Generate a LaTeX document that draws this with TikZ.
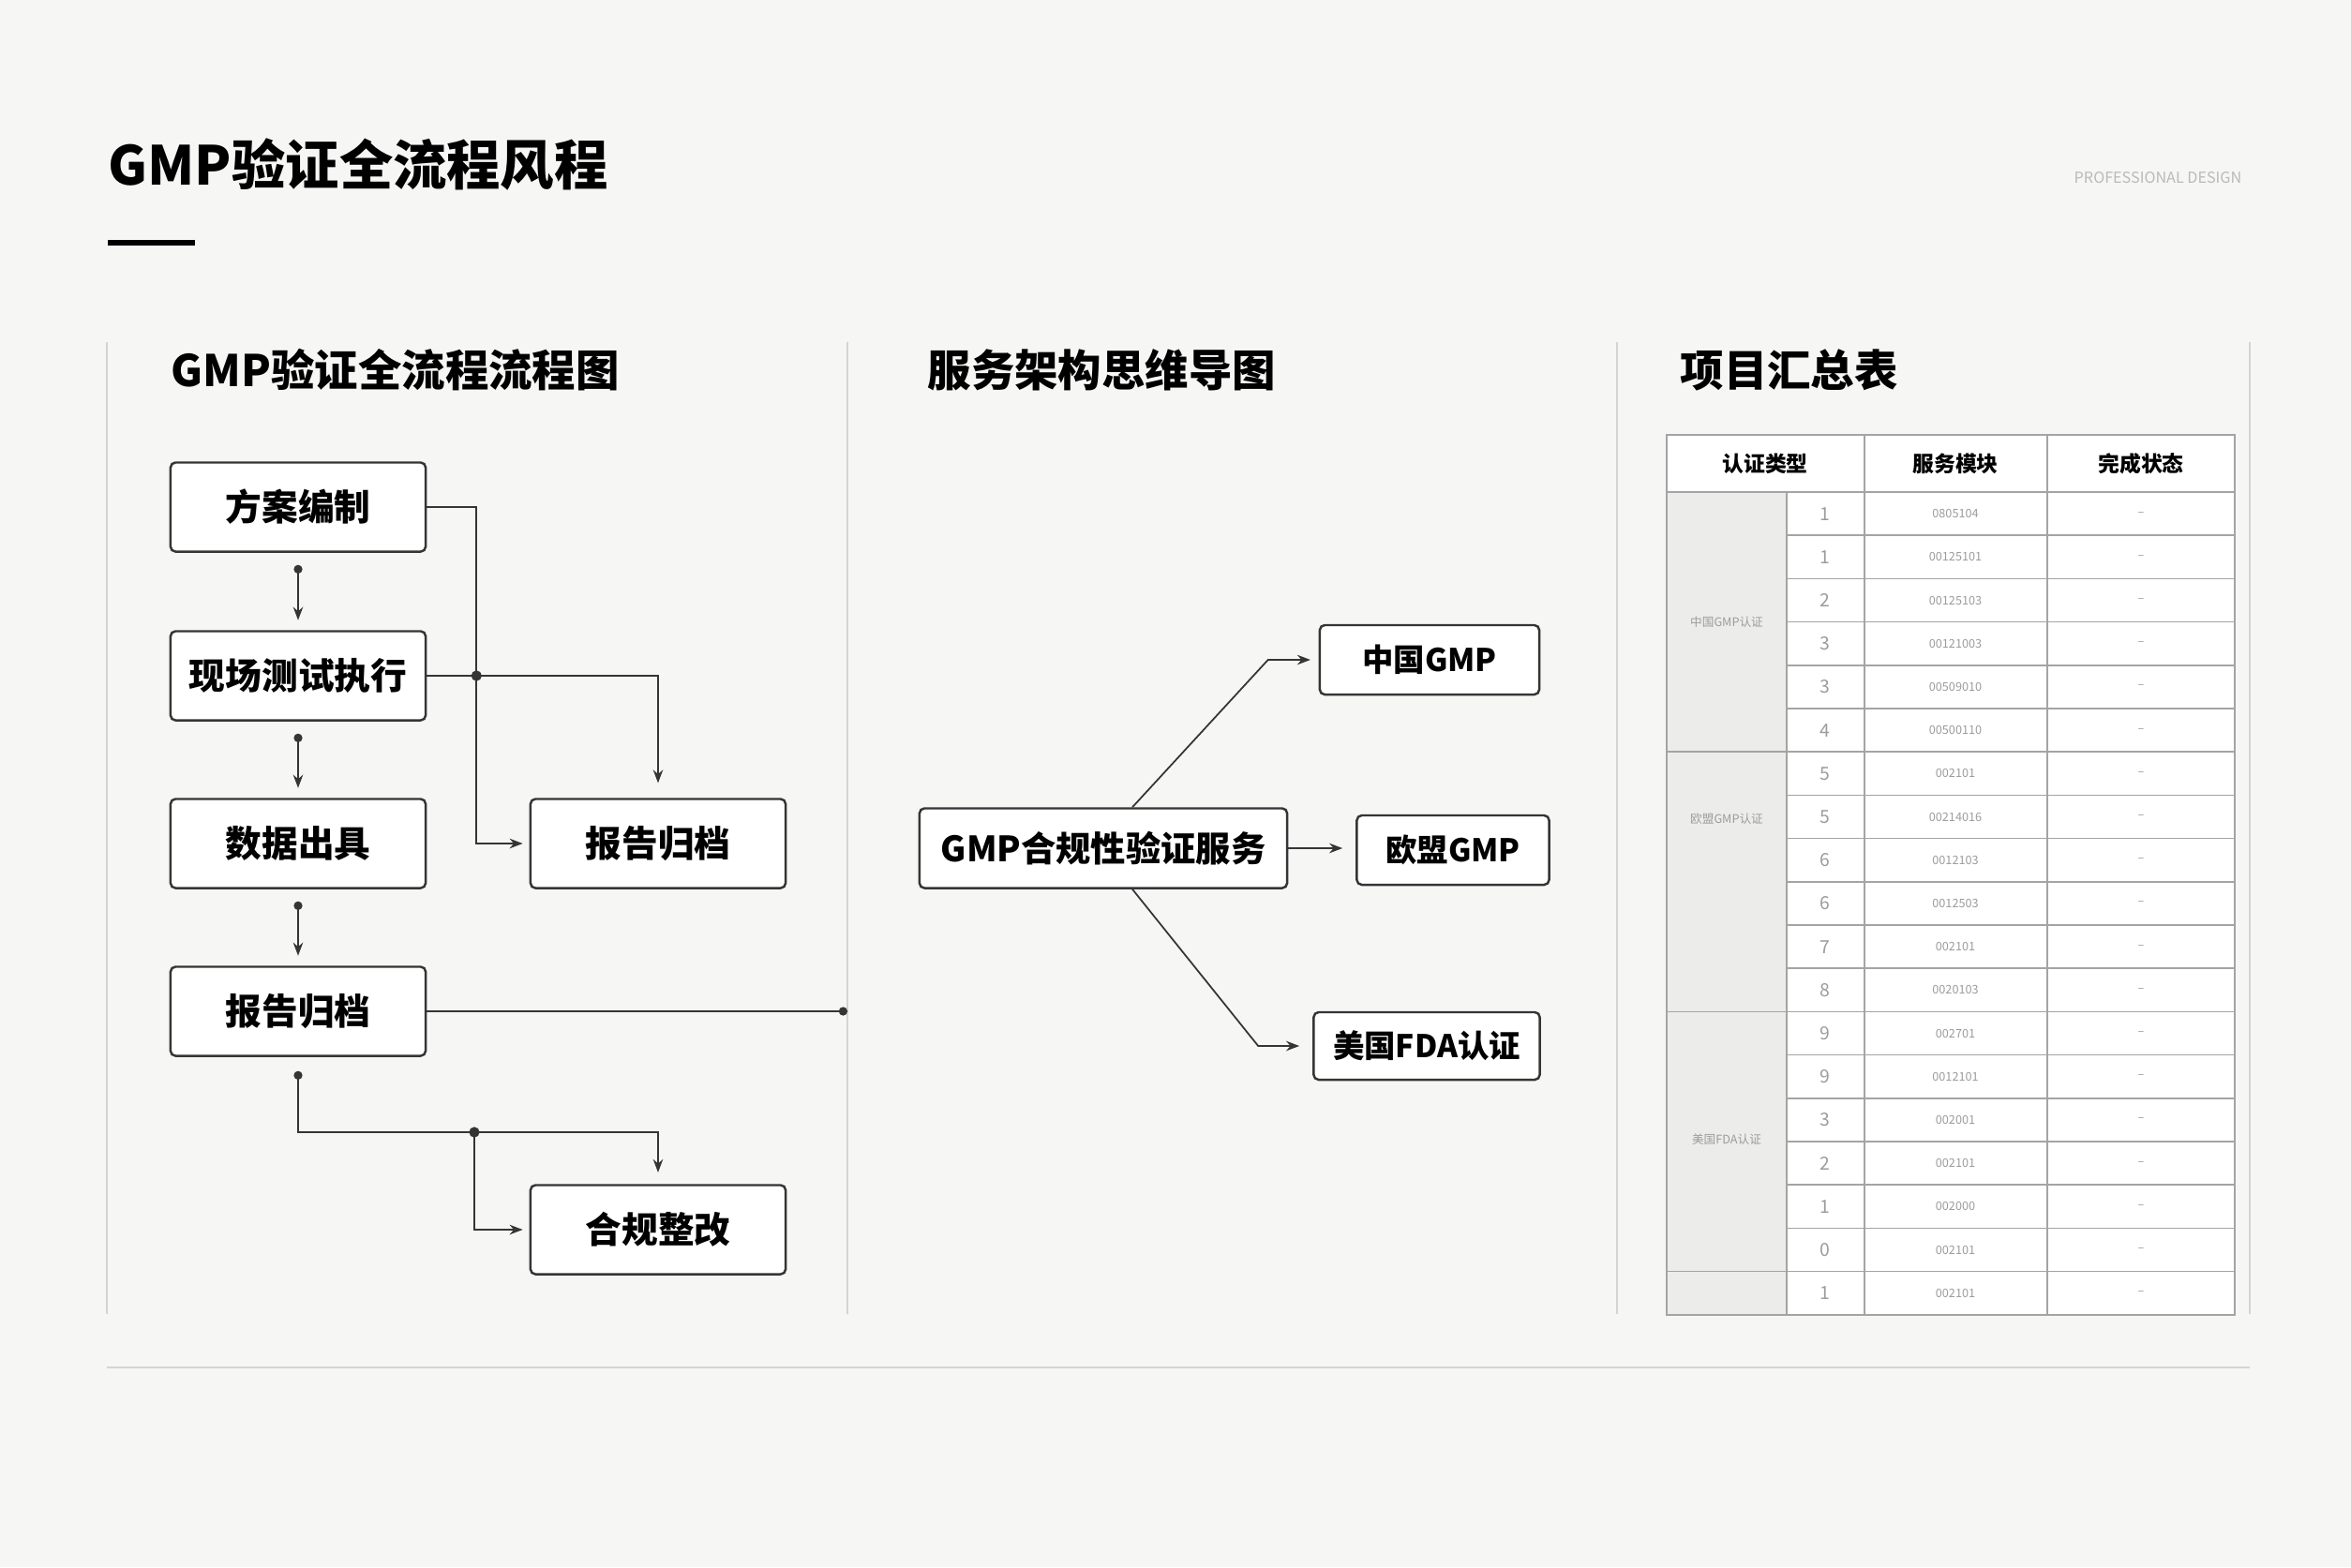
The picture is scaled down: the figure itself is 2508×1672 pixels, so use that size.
\documentclass[tikz,border=0pt]{standalone}
\usepackage{fontspec}
\setmainfont{Noto Sans CJK SC}
\usetikzlibrary{arrows.meta,calc}
\definecolor{paper}{HTML}{F6F6F5}
\definecolor{ink}{HTML}{353535}
\definecolor{rulegray}{HTML}{D4D4D2}
\definecolor{gridgray}{HTML}{A4A4A4}
\definecolor{cellgray}{HTML}{ECECEB}
\definecolor{faint}{HTML}{9C9C9C}
\tikzset{
  stepbox/.style={draw=ink,line width=0.7pt,fill=white,rounded corners=1.5pt,
    minimum width=2.72cm,minimum height=0.95cm,inner sep=0pt,
    font=\fontsize{11}{13}\selectfont\bfseries},
  leafbox/.style={stepbox,minimum height=0.74cm,font=\fontsize{9.5}{11}\selectfont\bfseries},
  headtxt/.style={anchor=west,inner sep=0pt,font=\fontsize{13.2}{16}\selectfont\bfseries},
  link/.style={draw=ink,line width=0.5pt,arrows={-Stealth[length=4pt,width=3pt]}},
  dotlink/.style={draw=ink,line width=0.5pt,arrows={Circle[length=2.6pt]-Stealth[length=4pt,width=3pt]}},
  enddot/.style={draw=ink,line width=0.5pt,arrows={-Circle[length=2.6pt]}},
  cellhead/.style={font=\fontsize{6.5}{8}\selectfont\bfseries},
  celltxt/.style={text=faint,font=\fontsize{5.5}{7}\selectfont},
  codetxt/.style={text=faint,font=\fontsize{3.6}{4}\selectfont},
}
\begin{document}
\begin{tikzpicture}[x=0.01cm,y=-0.01cm]
\fill[paper] (0,0) rectangle (2508,1672);
\useasboundingbox (0,0) rectangle (2508,1672);

% page title
\node[anchor=west,inner sep=0pt,font=\fontsize{16.3}{19}\selectfont\bfseries] (title) at (115,175) {GMP验证全流程风程};
\fill (115,256) rectangle (208,262);
\node[anchor=east,inner sep=0pt,text=faint!70,font=\fontsize{4.6}{5}\selectfont] (brand) at (2392,190) {PROFESSIONAL DESIGN};

% panel rules
\foreach \x in {114,904,1725,2400}
  \draw[rulegray,line width=0.6pt] (\x,365) -- (\x,1402);
\draw[rulegray,line width=0.6pt] (114,1459) -- (2400,1459);

\node[headtxt] (h1) at (182,395) {GMP验证全流程流程图};
\node[headtxt] (h2) at (989,395) {服务架构思维导图};
\node[headtxt] (h3) at (1792,395) {项目汇总表};

% flow chart
\node[stepbox] (f1) at (318,541) {方案编制};
\node[stepbox] (f2) at (318,721) {现场测试执行};
\node[stepbox] (f3) at (318,900) {数据出具};
\node[stepbox] (f4) at (318,1079) {报告归档};
\node[stepbox] (r1) at (702,900) {报告归档};
\node[stepbox] (r2) at (702,1312) {合规整改};

\draw[dotlink,shorten >=3pt] ($(f1.south)+(0,13)$) -- (f2.north);
\draw[dotlink,shorten >=3pt] ($(f2.south)+(0,13)$) -- (f3.north);
\draw[dotlink,shorten >=3pt] ($(f3.south)+(0,13)$) -- (f4.north);

\draw[link,shorten >=2pt] (f1.east) -- ++(53,0) |- (r1.west);
\draw[link,shorten >=4.5pt] (f2.east) -| (r1.north);
\fill[ink] ($(f2.east)+(53,0)$) circle (1.6pt);

\coordinate (edge) at (904,1079);
\draw[enddot] (f4.east) -- (edge);

\coordinate (split) at (506,1208);
\draw[dotlink,shorten >=3.5pt] ($(f4.south)+(0,15)$) |- (split) -| (r2.north);
\draw[link,shorten >=2pt] (split) |- (r2.west);
\fill[ink] (split) circle (1.6pt);

% mind map
\node[stepbox,minimum width=3.92cm,minimum height=0.85cm,font=\fontsize{10.6}{13}\selectfont\bfseries] (m0) at (1177,905) {GMP合规性验证服务};
\node[leafbox,minimum width=2.34cm] (cn) at (1525,704) {中国GMP};
\node[leafbox,minimum width=2.05cm] (eu) at (1550,907) {欧盟GMP};
\node[leafbox,minimum width=2.41cm,minimum height=0.72cm] (us) at (1522,1116) {美国FDA认证};

\draw[link,shorten >=2.5pt] ($(m0.north)+(31,0)$) -- ($(cn.west)+(-54,0)$) -- (cn.west);
\draw[link,shorten >=4pt] (m0.east) -- (m0.east -| eu.west);
\draw[link,shorten >=4pt] ($(m0.south)+(31,0)$) -- ($(us.west)+(-58,0)$) -- (us.west);

% summary table
\fill[cellgray] (1778,525) rectangle (1906,1403);
\fill[white] (1906,525) rectangle (2384,1403);
\fill[white] (1778,464) rectangle (2384,525);
\foreach \i in {1,...,18}
  \draw[gridgray,line width=0.5pt] (1906,{525+\i*46.2}) -- (2384,{525+\i*46.2});
\foreach \i in {6,12,18}
  \draw[gridgray,line width=0.5pt] (1778,{525+\i*46.2}) -- (1906,{525+\i*46.2});
\draw[gridgray,line width=0.6pt] (1778,525) -- (2384,525);
\draw[gridgray,line width=0.5pt] (1906,525) -- (1906,1403);
\draw[gridgray,line width=0.5pt] (1989,464) -- (1989,1403);
\draw[gridgray,line width=0.5pt] (2184,464) -- (2184,1403);
\draw[gridgray,line width=0.7pt] (1778,464) rectangle (2384,1403);

\node[cellhead] (c1) at (1883,495) {认证类型};
\node[cellhead] (c2) at (2086,495) {服务模块};
\node[cellhead] (c3) at (2284,495) {完成状态};

\node[codetxt] (g1) at (1842,664) {中国GMP认证};
\node[codetxt] (g2) at (1842,874) {欧盟GMP认证};
\node[codetxt] (g3) at (1842,1216) {美国FDA认证};

\foreach \n/\code [count=\i] in {1/0805104,1/00125101,2/00125103,3/00121003,3/00509010,4/00500110,
    5/002101,5/00214016,6/0012103,6/0012503,7/002101,8/0020103,
    9/002701,9/0012101,3/002001,2/002101,1/002000,0/002101,1/002101}{
  \node[celltxt] (n\i) at (1947,{525+(\i-0.5)*46.2}) {\n};
  \node[codetxt] (s\i) at (2086,{525+(\i-0.5)*46.2}) {\code};
  \node[codetxt] (d\i) at (2284,{525+(\i-0.5)*46.2}) {--};
}
\end{tikzpicture}
\end{document}
